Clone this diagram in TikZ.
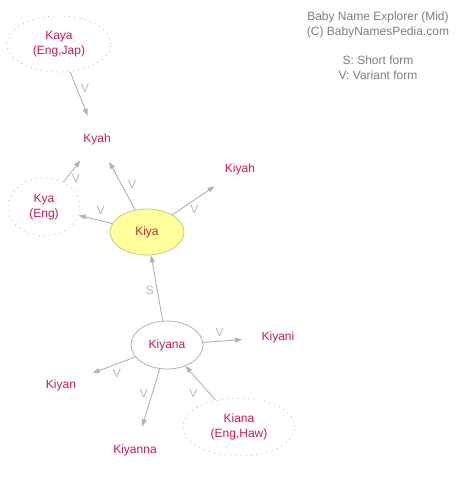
\documentclass[tikz,border=0pt]{standalone}
\usepackage{fontspec}
\setmainfont{Liberation Sans}
\usetikzlibrary{shapes.geometric,arrows.meta}
\definecolor{namec}{RGB}{196,28,78}
\definecolor{kiyatext}{RGB}{196,40,45}
\definecolor{edgec}{RGB}{178,178,178}
\definecolor{labc}{RGB}{185,185,185}
\definecolor{dotc}{RGB}{190,190,190}
\definecolor{titlec}{RGB}{125,125,125}
\definecolor{kiyafill}{RGB}{255,255,155}
\definecolor{kiyadraw}{RGB}{200,200,140}
\tikzset{
  base/.style={ellipse, inner sep=0pt, align=center, text=namec, font=\fontsize{12}{15}\selectfont},
  plain/.style={base, minimum width=72pt, minimum height=48pt},
  dotted ell/.style={base, draw=dotc, line width=1pt, dash pattern=on 0.8pt off 4.5pt},
  center ell/.style={base, draw=kiyadraw, fill=kiyafill, line width=0.8pt, text=kiyatext},
  solid ell/.style={base, draw=edgec, fill=white, line width=0.8pt},
  edge/.style={draw=edgec, line width=0.9pt, -{Triangle[length=7pt,width=5pt]}},
  elab/.style={text=labc, font=\fontsize{12}{15}\selectfont, inner sep=0pt},
  title/.style={text=titlec, align=center, font=\fontsize{12}{15}\selectfont}
}
\begin{document}
\begin{tikzpicture}[x=1pt,y=-1pt]
\useasboundingbox (0,0) rectangle (469,480);
\node[title] (t1) at (378,25) {Baby Name Explorer (Mid)\\(C) BabyNamesPedia.com};
\node[title] (t2) at (378,68) {S: Short form\\V: Variant form};

\node[dotted ell, minimum width=104pt, minimum height=56pt] (kaya) at (59,44) {Kaya\\(Eng,Jap)};
\node[plain] (kyah) at (97,139) {Kyah};
\node[dotted ell, minimum width=72pt, minimum height=58pt] (kya) at (44,207) {Kya\\(Eng)};
\node[center ell, minimum width=74pt, minimum height=46pt] (kiya) at (147,232) {Kiya};
\node[plain] (kiyah) at (240,169) {Kiyah};
\node[solid ell, minimum width=72pt, minimum height=48pt] (kiyana) at (167,345) {Kiyana};
\node[plain] (kiyani) at (278,337) {Kiyani};
\node[plain] (kiyan) at (61,385) {Kiyan};
\node[plain] (kiyanna) at (135,450) {Kiyanna};
\node[dotted ell, minimum width=112pt, minimum height=58pt] (kiana) at (239,427) {Kiana\\(Eng,Haw)};

\draw[edge] (kaya) -- node[elab, xshift=6pt, yshift=5pt] {V} (kyah);
\draw[edge] (kya) -- node[elab, xshift=4pt, yshift=-7pt] {V} (kyah);
\draw[edge] (kiya) -- node[elab, xshift=10pt, yshift=1pt] {V} (kyah);
\draw[edge] (kiya) -- node[elab, xshift=5pt, yshift=9pt] {V} (kya);
\draw[edge] (kiya) -- node[elab, xshift=1pt, yshift=-9pt] {V} (kiyah);
\draw[edge] (kiyana) -- node[elab, xshift=-7pt, yshift=-2pt] {S} (kiya);
\draw[edge] (kiyana) -- node[elab, xshift=-3pt, yshift=9pt] {V} (kiyani);
\draw[edge] (kiyana) -- node[elab, xshift=3pt, yshift=-8pt] {V} (kiyan);
\draw[edge] (kiyana) -- node[elab, xshift=-7pt, yshift=4pt] {V} (kiyanna);
\draw[edge] (kiana) -- node[elab, xshift=-7pt, yshift=-10pt] {V} (kiyana);
\end{tikzpicture}
\end{document}
